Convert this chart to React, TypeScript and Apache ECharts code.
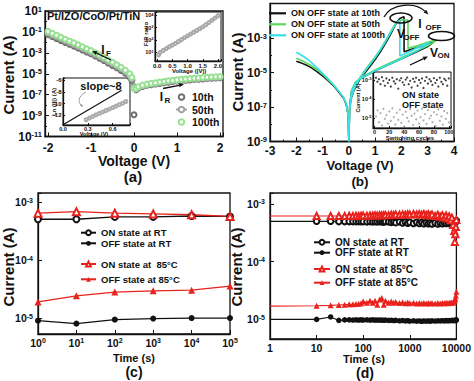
import React, { useEffect, useRef } from 'react';
import * as echarts from 'echarts';

// ---------- (a) main: I-V of Pt/IZO/CoO/Pt/TiN ----------
const aV = [-2.0,-1.9,-1.8,-1.7,-1.6,-1.5,-1.4,-1.3,-1.2,-1.1,-1.0,-0.9,-0.8,-0.7,-0.6,-0.5,-0.4,-0.3,-0.2,-0.1,
  -0.05,0,0.05,
  0.1,0.2,0.3,0.4,0.5,0.6,0.7,0.8,0.9,1.0,1.1,1.2,1.3,1.4,1.5,1.6,1.7,1.8,1.9,2.0];
const a10 = [5.6e-2,3.7e-2,2.4e-2,1.55e-2,1.0e-2,6.7e-3,4.5e-3,2.9e-3,1.9e-3,1.23e-3,8.1e-4,5.0e-4,3.0e-4,1.85e-4,1.06e-4,6.3e-5,3.7e-5,2.1e-5,1.13e-5,5.0e-6,
  2.3e-6,1.2e-9,3.0e-7,
  4.4e-7,6.2e-7,7.8e-7,9.1e-7,1.05e-6,1.2e-6,1.37e-6,1.58e-6,1.78e-6,2.0e-6,2.2e-6,2.4e-6,2.6e-6,2.8e-6,3.0e-6,3.2e-6,3.5e-6,3.7e-6,3.9e-6,4.1e-6];
const a50 = [7.9e-2,5.2e-2,3.4e-2,2.2e-2,1.45e-2,9.5e-3,6.3e-3,4.1e-3,2.7e-3,1.74e-3,1.15e-3,7.1e-4,4.3e-4,2.6e-4,1.5e-4,8.9e-5,5.2e-5,3.0e-5,1.6e-5,7.1e-6,
  3.2e-6,6.0e-7,3.5e-7,
  5.0e-7,7.1e-7,8.9e-7,1.05e-6,1.2e-6,1.38e-6,1.58e-6,1.82e-6,2.04e-6,2.3e-6,2.5e-6,2.75e-6,3.0e-6,3.2e-6,3.5e-6,3.7e-6,4.0e-6,4.3e-6,4.5e-6,4.7e-6];
const a100 = [1.12e-1,7.3e-2,4.8e-2,3.1e-2,2.0e-2,1.34e-2,8.9e-3,5.8e-3,3.8e-3,2.45e-3,1.62e-3,1.0e-3,6.1e-4,3.7e-4,2.1e-4,1.25e-4,7.3e-5,4.2e-5,2.2e-5,1.0e-5,
  4.5e-6,4.0e-7,4.0e-7,
  5.8e-7,8.2e-7,1.02e-6,1.2e-6,1.38e-6,1.6e-6,1.82e-6,2.1e-6,2.35e-6,2.6e-6,2.9e-6,3.2e-6,3.45e-6,3.7e-6,4.0e-6,4.3e-6,4.6e-6,4.9e-6,5.2e-6,5.4e-6];

// (a) inset: F/R ratio vs |V|
const a1V = [0.05,0.1,0.2,0.3,0.4,0.5,0.6,0.7,0.8,0.9,1.0,1.1,1.2,1.3,1.4,1.5,1.6,1.7,1.8,1.9,2.0];
const a1Ratio = [6.3,10,14,20,28,38,52,74,105,151,214,295,417,575,794,1122,1660,2512,3802,5754,8913];

// (a) inset: Ln(|I|) vs V
const a2FitV = [0, 0.71];
const a2FitLn = [-13.65, -7.7];
const a2PtsV = [0.28,0.32,0.36,0.40,0.44,0.48,0.52,0.56,0.60,0.64,0.68,0.72,0.76];
const a2PtsLn = [-12.8,-12.5,-12.2,-11.95,-11.7,-11.45,-11.2,-10.95,-10.7,-10.45,-10.2,-9.95,-9.65];

// ---------- (b) ON/OFF switching I-V ----------
const bV10 = [-2.0,-1.8,-1.6,-1.4,-1.2,-1.0,-0.8,-0.6,-0.4,-0.2,-0.1,-0.03,0,
  0.03,0.1,0.2,0.4,0.6,0.8,1.0,1.2,1.4,1.6,1.8,1.95,2.1,
  2.1,2.5,2.9,3.25,
  3.0,2.5,2.0,1.5,1.0,0.5,0.25,0.1,0.03,0];
const bI10 = [4.5e-5,3.5e-5,2.6e-5,1.8e-5,1.1e-5,6.3e-6,3.5e-6,1.8e-6,7.9e-7,3.2e-7,1.4e-7,4.0e-8,1e-9,
  1e-7,3.5e-7,1e-6,3.5e-6,8.9e-6,2.2e-5,5.6e-5,1.6e-4,5.0e-4,1.8e-3,7.1e-3,1.4e-2,1.7e-2,
  1.6e-4,2.5e-4,4.0e-4,6.3e-4,
  3.2e-4,1.4e-4,6.3e-5,2.8e-5,1.26e-5,5.0e-6,2.5e-6,7.9e-7,1e-7,1e-9];
const bV50 = [-2.0,-1.8,-1.6,-1.4,-1.2,-1.0,-0.8,-0.6,-0.4,-0.2,-0.1,-0.03,0,
  0.03,0.1,0.2,0.4,0.6,0.8,1.0,1.2,1.4,1.6,1.8,2.0,2.25,
  2.25,2.6,3.0,3.35,
  3.0,2.5,2.0,1.5,1.0,0.5,0.25,0.1,0.03,0];
const bI50 = [6.6e-5,5.0e-5,3.5e-5,2.3e-5,1.4e-5,7.9e-6,4.0e-6,2.0e-6,8.9e-7,3.5e-7,1.6e-7,4.0e-8,1e-9,
  1e-7,4.5e-7,1.26e-6,4.5e-6,1.26e-5,3.2e-5,7.9e-5,2.2e-4,7.1e-4,2.5e-3,7.9e-3,1.1e-2,1.1e-2,
  2.5e-4,3.5e-4,5.6e-4,7.9e-4,
  3.5e-4,1.6e-4,7.1e-5,3.2e-5,1.4e-5,5.6e-6,2.8e-6,8.9e-7,1e-7,1e-9];
const bV100 = [-2.0,-1.8,-1.6,-1.4,-1.2,-1.0,-0.8,-0.6,-0.4,-0.2,-0.1,-0.03,0,
  0.03,0.1,0.2,0.4,0.6,0.8,1.0,1.2,1.4,1.6,1.8,1.94,
  1.94,2.3,2.7,3.1,
  2.6,2.0,1.5,1.0,0.5,0.25,0.1,0.03,0];
const bI100 = [1.5e-4,1.0e-4,6.3e-5,3.5e-5,1.8e-5,8.9e-6,4.5e-6,2.1e-6,8.9e-7,3.5e-7,1.6e-7,3.2e-8,1e-9,
  7.9e-8,4.0e-7,1.1e-6,4.0e-6,1.1e-5,2.8e-5,7.1e-5,2.0e-4,6.3e-4,2.2e-3,7.1e-3,1.1e-2,
  8.9e-5,1.6e-4,3.2e-4,5.6e-4,
  1.8e-4,6.3e-5,2.8e-5,1.26e-5,5.0e-6,2.5e-6,7.9e-7,7.9e-8,1e-9];

// (b) inset: current vs switching cycles
const bCycles = [2,4,6,8,10,12,14,16,18,20,22,24,26,28,30,32,34,36,38,40,42,44,46,48,50,
  52,54,56,58,60,62,64,66,68,70,72,74,76,78,80,82,84,86,88,90,92,94,96,98,100];
const bOn = [1.3e-3,8e-4,1.1e-3,6e-4,1.4e-3,9e-4,5e-4,1.2e-3,7e-4,1.0e-3,
  4.5e-4,1.3e-3,8.5e-4,6.5e-4,1.1e-3,3.5e-4,9.5e-4,1.25e-3,7.5e-4,5.5e-4,
  1.05e-3,1.35e-3,6e-4,9e-4,4e-4,1.15e-3,8e-4,1.3e-3,5e-4,1e-3,
  7e-4,1.2e-3,3.8e-4,9e-4,1.4e-3,6.5e-4,1.1e-3,8.5e-4,5.5e-4,1.25e-3,
  7e-4,1e-3,4.5e-4,1.3e-3,8e-4,6e-4,1.15e-3,9.5e-4,5e-4,1.2e-3];
const bOff = [1.2e-5,2.5e-5,6e-6,1.8e-5,4e-6,3e-5,9e-6,1.4e-5,5e-6,2.2e-5,
  7e-6,3.2e-5,1.1e-5,4.5e-6,1.9e-5,8e-6,2.7e-5,5.5e-6,1.5e-5,3.5e-6,
  2.1e-5,1e-5,6.5e-6,2.9e-5,1.3e-5,4.2e-6,1.7e-5,8.5e-6,2.4e-5,5e-6,
  1.1e-5,3.1e-5,7.5e-6,1.6e-5,4.8e-6,2.6e-5,9.5e-6,1.3e-5,6e-6,2e-5,
  3.8e-6,1.5e-5,2.8e-5,7e-6,1.2e-5,4.4e-6,2.3e-5,9e-6,1.8e-5,5.8e-6];

// ---------- (c) retention, sparse ----------
const cTime = [1,10,100,1000,10000,100000];
const cOnRT = [5.1e-4,5.1e-4,5.6e-4,5.6e-4,5.8e-4,5.7e-4];
const cOffRT = [9.1e-6,8.1e-6,9.5e-6,9.9e-6,1.01e-5,1.01e-5];
const cOn85 = [6.5e-4,6.9e-4,6.5e-4,6.3e-4,6.1e-4,5.7e-4];
const cOff85 = [1.92e-5,2.44e-5,2.83e-5,2.98e-5,3.06e-5,3.59e-5];

// ---------- (d) retention, dense ----------
const dTime = [1,10,20,30,40,50,60,70,80,90,
  100,120,140,160,180,
  200,225,250,275,
  300,350,400,450,
  500,600,700,800,900,
  1000,1200,1400,1600,1800,
  2000,2250,2500,2750,
  3000,3500,4000,4500,
  5000,5500,6000,6500,
  7000,7500,8000,8500,
  9000,9250,9500,9750,10000];
const dOnRT = [5.0e-4,5.0e-4,5.0e-4,4.95e-4,4.95e-4,4.95e-4,4.95e-4,4.95e-4,4.95e-4,4.95e-4,
  4.95e-4,4.9e-4,4.95e-4,4.9e-4,4.95e-4,
  4.9e-4,4.95e-4,4.9e-4,4.85e-4,
  4.95e-4,4.9e-4,4.8e-4,4.9e-4,
  4.75e-4,4.9e-4,4.7e-4,4.85e-4,4.65e-4,
  4.8e-4,4.6e-4,4.8e-4,4.6e-4,4.75e-4,
  4.55e-4,4.75e-4,4.55e-4,4.7e-4,
  4.5e-4,4.7e-4,4.5e-4,4.7e-4,
  4.55e-4,4.75e-4,4.6e-4,4.8e-4,
  4.6e-4,4.8e-4,4.65e-4,4.85e-4,
  4.7e-4,4.9e-4,4.8e-4,5.0e-4,5.1e-4];
const dOffRT = [1.0e-5,1.0e-5,1.1e-5,9.6e-6,9.8e-6,9.8e-6,9.75e-6,9.8e-6,9.75e-6,9.8e-6,
  9.75e-6,9.8e-6,9.7e-6,9.8e-6,9.7e-6,
  9.75e-6,9.7e-6,9.75e-6,9.65e-6,
  9.7e-6,9.6e-6,9.65e-6,9.55e-6,
  9.6e-6,9.45e-6,9.55e-6,9.4e-6,9.5e-6,
  9.3e-6,9.45e-6,9.3e-6,9.4e-6,9.25e-6,
  9.4e-6,9.3e-6,9.4e-6,9.3e-6,
  9.45e-6,9.35e-6,9.45e-6,9.4e-6,
  9.5e-6,9.4e-6,9.55e-6,9.45e-6,
  9.55e-6,9.5e-6,9.6e-6,9.5e-6,
  9.6e-6,9.55e-6,9.65e-6,9.6e-6,9.8e-6];
const dOn85 = [6.2e-4,6.2e-4,6.2e-4,6.2e-4,6.2e-4,6.25e-4,6.2e-4,6.25e-4,6.2e-4,6.25e-4,
  6.3e-4,6.25e-4,6.3e-4,6.3e-4,6.35e-4,
  6.3e-4,6.4e-4,6.35e-4,6.4e-4,
  6.45e-4,6.4e-4,6.5e-4,6.45e-4,
  6.55e-4,6.5e-4,6.6e-4,6.5e-4,6.65e-4,
  6.55e-4,6.7e-4,6.55e-4,6.7e-4,6.5e-4,
  6.7e-4,6.45e-4,6.65e-4,6.3e-4,
  6.6e-4,6.2e-4,6.5e-4,6.0e-4,
  6.4e-4,5.8e-4,6.3e-4,5.6e-4,
  6.1e-4,5.2e-4,5.8e-4,4.3e-4,
  3.4e-4,2.2e-4,3.0e-4,4.0e-4,5.3e-4];
const dOff85 = [1.7e-5,1.72e-5,1.75e-5,1.78e-5,1.8e-5,1.82e-5,1.83e-5,1.85e-5,1.86e-5,1.9e-5,
  2.05e-5,1.95e-5,2.1e-5,1.95e-5,2.1e-5,
  1.8e-5,2.2e-5,2.35e-5,1.8e-5,
  2.1e-5,1.95e-5,2.05e-5,1.95e-5,
  2.0e-5,1.92e-5,1.98e-5,1.9e-5,1.96e-5,
  1.9e-5,1.95e-5,1.88e-5,1.93e-5,1.88e-5,
  1.93e-5,1.88e-5,1.92e-5,1.88e-5,
  1.92e-5,1.88e-5,1.92e-5,1.88e-5,
  1.93e-5,1.9e-5,1.95e-5,1.9e-5,
  1.95e-5,1.92e-5,1.98e-5,1.95e-5,
  2.05e-5,2.15e-5,2.3e-5,2.6e-5,3.0e-5];

// ---------- styling ----------
const FF = '"Liberation Sans", Arial, Helvetica, sans-serif';
const INK = '#111';
const RED = '#e8221c';
const GREEN = '#5cd65c';
const CYAN = '#33e0e8';
const lg = (v: number) => Math.log10(v);
const pairs = (xs: number[], ys: number[], fx = (v: number) => v, fy = (v: number) => v) =>
  xs.map((x, i) => [fx(x), fy(ys[i])]);

const isInt = (v: number) => Math.abs(v - Math.round(v)) < 1e-6;
const fmtPow = (v: number) => (isInt(v) ? `{b|10}{s|${Math.round(v)}}` : '');
const fmtPowNoTop = (v: number) => (isInt(v) && Math.round(v) !== -1 ? `{b|10}{s|${Math.round(v)}}` : '');
const fmtInt = (v: number) => (isInt(v) ? String(Math.round(v)) : '');
const fmtStep = (step: number, dec: number) => (v: number) => (isInt(v / step) ? v.toFixed(dec) : '');
const fmtTime = (v: number) => (isInt(v) ? String(Math.round(Math.pow(10, Math.round(v)))) : '');

function ax(gridIndex: number, min: number, max: number, o: any) {
  const size = o.size ?? 12;
  const sup = o.sup ?? 8;
  const tick = o.tick ?? 4;
  return {
    type: 'value', gridIndex, min, max,
    interval: o.interval, splitNumber: o.splitNumber,
    axisLine: { show: true, onZero: false, lineStyle: { color: INK, width: 1.3 } },
    axisTick: { show: true, inside: true, length: tick, lineStyle: { color: INK, width: 1 } },
    minorTick: o.minor ? { show: true, splitNumber: o.minor, length: tick / 2, lineStyle: { color: INK, width: 1 } } : { show: false },
    splitLine: { show: false },
    minorSplitLine: { show: false },
    axisLabel: {
      show: true, margin: o.margin ?? 4, formatter: o.fmt, color: INK,
      fontSize: size, fontWeight: 'bold', fontFamily: FF,
      rich: {
        b: { fontSize: size, fontWeight: 'bold', fontFamily: FF, color: INK },
        s: { fontSize: sup, fontWeight: 'bold', fontFamily: FF, color: INK, verticalAlign: 'top' },
      },
    },
  };
}

function txt(text: string, x: number, y: number, size: number, o: any = {}) {
  const align = o.align || 'center';
  return {
    type: 'text', x, y, rotation: o.rot || 0, silent: true, z: 50,
    style: {
      text, fontSize: size, fontWeight: o.weight || 'bold', fontFamily: FF, fill: o.fill || INK,
      align, verticalAlign: 'middle', textAlign: align, textVerticalAlign: 'middle',
    },
  };
}

function arrow(x1: number, y1: number, x2: number, y2: number, color = INK, w = 1.3, len = 5, half = 2) {
  const dx = x2 - x1, dy = y2 - y1;
  const L = Math.hypot(dx, dy);
  const ux = dx / L, uy = dy / L;
  const bx = x2 - ux * len, by = y2 - uy * len;
  return [
    { type: 'line', silent: true, z: 50, shape: { x1, y1, x2: bx, y2: by }, style: { stroke: color, lineWidth: w } },
    { type: 'polygon', silent: true, z: 50, shape: { points: [[x2, y2], [bx - uy * half, by + ux * half], [bx + uy * half, by - ux * half]] }, style: { fill: color } },
  ];
}

function curvedArrow(x1: number, y1: number, c1x: number, c1y: number, c2x: number, c2y: number, x2: number, y2: number, color = INK, w = 1.3, len = 5, half = 2) {
  const dx = x2 - c2x, dy = y2 - c2y;
  const L = Math.hypot(dx, dy);
  const ux = dx / L, uy = dy / L;
  const bx = x2 - ux * len, by = y2 - uy * len;
  return [
    { type: 'bezierCurve', silent: true, z: 50, shape: { x1, y1, cpx1: c1x, cpy1: c1y, cpx2: c2x, cpy2: c2y, x2: bx, y2: by }, style: { stroke: color, lineWidth: w, fill: 'transparent' } },
    { type: 'polygon', silent: true, z: 50, shape: { points: [[x2, y2], [bx - uy * half, by + ux * half], [bx + uy * half, by - ux * half]] }, style: { fill: color } },
  ];
}

const gridBase = { show: true, borderColor: INK, borderWidth: 1.3, containLabel: false };
const legBase = { padding: 0, orient: 'vertical', selectedMode: false };
const lt = (fontSize: number, lineHeight: number) => ({ fontSize, lineHeight, fontWeight: 'bold', fontFamily: FF, color: INK });

function dSeries(name: string, vals: number[], symbol: string, color: string, size: number) {
  return {
    name, type: 'line', xAxisIndex: 6, yAxisIndex: 6, symbol, symbolSize: size,
    data: dTime.map((t, i) => (i === 0 ? { value: [lg(t), lg(vals[i])], symbol: 'none' } : [lg(t), lg(vals[i])])),
    lineStyle: { color, width: 1.1 }, itemStyle: { color, borderWidth: 1 },
  };
}
function cSeries(name: string, vals: number[], symbol: string, color: string, size: number) {
  return {
    name, type: 'line', xAxisIndex: 5, yAxisIndex: 5, symbol, symbolSize: size,
    data: pairs(cTime, vals, lg, lg),
    lineStyle: { color, width: 1.3 }, itemStyle: { color, borderWidth: 1.1 },
  };
}

const option: any = {
  animation: false,
  textStyle: { fontFamily: FF },
  grid: [
    { ...gridBase, left: 45, top: 11, width: 178, height: 125.5 },
    { ...gridBase, left: 155, top: 12, width: 66, height: 49, borderWidth: 1, backgroundColor: '#fff' },
    { ...gridBase, left: 63, top: 78, width: 67, height: 47, borderWidth: 1, backgroundColor: '#fff' },
    { ...gridBase, left: 270, top: 3.5, width: 184, height: 138 },
    { ...gridBase, left: 373, top: 72, width: 78, height: 56, borderWidth: 1, backgroundColor: '#fff' },
    { ...gridBase, left: 38, top: 193, width: 192, height: 141 },
    { ...gridBase, left: 270, top: 193, width: 189, height: 146 },
  ],
  xAxis: [
    ax(0, -2.07, 2.07, { splitNumber: 4, fmt: fmtInt, size: 12, margin: 5 }),
    ax(1, -0.07, 2.1, { splitNumber: 4, fmt: fmtStep(0.5, 1), size: 6, margin: 2, tick: 2 }),
    ax(2, 0, 0.81, { interval: 0.3, fmt: fmtStep(0.3, 1), size: 5.5, margin: 1, tick: 2 }),
    ax(3, -3, 4, { interval: 1, fmt: fmtInt, size: 12, margin: 3, minor: 2 }),
    ax(4, -2, 103, { splitNumber: 5, fmt: fmtStep(20, 0), size: 5.5, margin: 1, tick: 2 }),
    ax(5, 0, 5, { interval: 1, fmt: fmtPow, size: 10.5, sup: 7, margin: 3 }),
    ax(6, 0, 4, { interval: 1, fmt: fmtTime, size: 10.5, margin: 3 }),
  ],
  yAxis: [
    ax(0, -11, 1, { interval: 2, fmt: fmtPow, size: 12, sup: 7.5, margin: 3, minor: 2 }),
    ax(1, 0.3, 4.25, { splitNumber: 4, fmt: fmtPow, size: 5.5, sup: 4, margin: 1.5, tick: 2 }),
    ax(2, -13.7, -5.6, { splitNumber: 4, fmt: fmtInt, size: 6, margin: 1.5, tick: 2 }),
    ax(3, -9, -1, { interval: 2, fmt: fmtPowNoTop, size: 12, sup: 7.5, margin: 3, minor: 2 }),
    ax(4, -5.53, -2.58, { splitNumber: 3, fmt: fmtPow, size: 5.5, sup: 4, margin: 1.5, tick: 2 }),
    ax(5, -5.27, -2.84, { splitNumber: 2, fmt: fmtPow, size: 10.5, sup: 7, margin: 5 }),
    ax(6, -5.34, -2.81, { splitNumber: 2, fmt: fmtPow, size: 10.5, sup: 7, margin: 5 }),
  ],
  legend: [
    { ...legBase, left: 175, top: 91.5, itemWidth: 11, itemHeight: 7, itemGap: 1.5, textStyle: lt(10.5, 11), data: ['10th', '50th', '100th'] },
    { ...legBase, left: 269, top: 8.3, itemWidth: 17, itemHeight: 2.2, itemGap: 1, textStyle: lt(9, 10),
      data: ['ON OFF state at 10th', 'ON OFF state at 50th', 'ON OFF state at 100th'].map((n) => ({ name: n, icon: 'rect' })) },
    { ...legBase, left: 80, top: 227.7, itemWidth: 15, itemHeight: 6, itemGap: 0.6, textStyle: lt(9.5, 10), data: ['ON state at RT', 'OFF state at RT'] },
    { ...legBase, left: 80, top: 259, itemWidth: 15, itemHeight: 6, itemGap: 5.3, textStyle: lt(9.5, 10), data: ['ON state at  85°C', 'OFF state at 85°C'] },
    { ...legBase, left: 313, top: 237.3, itemWidth: 16, itemHeight: 6, itemGap: 0.4, textStyle: lt(10, 10), data: ['ON state at RT', 'OFF state at RT'] },
    { ...legBase, left: 313, top: 264, itemWidth: 16, itemHeight: 6, textStyle: lt(10, 10), data: ['ON state at 85°C'] },
    { ...legBase, left: 313, top: 277.7, itemWidth: 16, itemHeight: 6, textStyle: lt(10, 10), data: ['OFF state at 85°C'] },
  ],
  series: [
    // (a)
    { name: '10th', type: 'line', xAxisIndex: 0, yAxisIndex: 0, data: pairs(aV, a10, (v) => v, lg), symbol: 'emptyCircle', symbolSize: 5,
      lineStyle: { width: 0, opacity: 0, color: '#6e6e6e' }, itemStyle: { color: '#6e6e6e', borderWidth: 1 } },
    { name: '50th', type: 'line', xAxisIndex: 0, yAxisIndex: 0, data: pairs(aV, a50, (v) => v, lg), symbol: 'emptyCircle', symbolSize: 5,
      lineStyle: { width: 1, color: '#a0a0a0' }, itemStyle: { color: '#a0a0a0', borderWidth: 1 } },
    { name: '100th', type: 'line', xAxisIndex: 0, yAxisIndex: 0, data: pairs(aV, a100, (v) => v, lg), symbol: 'emptyCircle', symbolSize: 5,
      lineStyle: { width: 0, opacity: 0, color: '#98e094' }, itemStyle: { color: '#98e094', borderWidth: 1 } },
    { name: 'F/R ratio', type: 'line', xAxisIndex: 1, yAxisIndex: 1, data: pairs(a1V, a1Ratio, (v) => v, lg), symbol: 'emptyCircle', symbolSize: 3,
      lineStyle: { width: 0, opacity: 0 }, itemStyle: { color: '#a8a8a8', borderWidth: 0.8 } },
    { name: 'fit', type: 'line', xAxisIndex: 2, yAxisIndex: 2, data: pairs(a2FitV, a2FitLn), symbol: 'none', lineStyle: { color: INK, width: 1.2 } },
    { name: 'Ln I', type: 'line', xAxisIndex: 2, yAxisIndex: 2, data: pairs(a2PtsV, a2PtsLn), symbol: 'emptyCircle', symbolSize: 3,
      lineStyle: { width: 0, opacity: 0 }, itemStyle: { color: '#ababab', borderWidth: 0.8 } },
    // (b)
    { name: 'ON OFF state at 10th', type: 'line', xAxisIndex: 3, yAxisIndex: 3, data: pairs(bV10, bI10, (v) => v, lg), symbol: 'none', lineStyle: { color: INK, width: 1.6 }, itemStyle: { color: INK } },
    { name: 'ON OFF state at 50th', type: 'line', xAxisIndex: 3, yAxisIndex: 3, data: pairs(bV50, bI50, (v) => v, lg), symbol: 'none', lineStyle: { color: GREEN, width: 1.6 }, itemStyle: { color: GREEN } },
    { name: 'ON OFF state at 100th', type: 'line', xAxisIndex: 3, yAxisIndex: 3, data: pairs(bV100, bI100, (v) => v, lg), symbol: 'none', lineStyle: { color: CYAN, width: 1.6 }, itemStyle: { color: CYAN } },
    { name: 'ON cycles', type: 'scatter', xAxisIndex: 4, yAxisIndex: 4, data: pairs(bCycles, bOn, (v) => v, lg), symbol: 'circle', symbolSize: 2.2, itemStyle: { color: INK } },
    { name: 'OFF cycles', type: 'scatter', xAxisIndex: 4, yAxisIndex: 4, data: pairs(bCycles, bOff, (v) => v, lg), symbol: 'circle', symbolSize: 2, itemStyle: { color: '#9a9a9a' } },
    // (c)
    cSeries('ON state at RT', cOnRT, 'emptyCircle', INK, 6),
    cSeries('OFF state at RT', cOffRT, 'circle', INK, 6),
    cSeries('ON state at  85°C', cOn85, 'emptyTriangle', RED, 7),
    cSeries('OFF state at 85°C', cOff85, 'triangle', RED, 7),
    // (d)
    dSeries('ON state at RT', dOnRT, 'emptyCircle', INK, 5.5),
    dSeries('OFF state at RT', dOffRT, 'circle', INK, 5.5),
    dSeries('ON state at 85°C', dOn85, 'emptyTriangle', RED, 6),
    dSeries('OFF state at 85°C', dOff85, 'triangle', RED, 6),
  ],
  graphic: {
    elements: [
      // (a)
      txt('Current (A)', 8.5, 75, 15, { rot: Math.PI / 2 }),
      txt('Voltage (V)', 134, 161, 14),
      txt('(a)', 133, 176, 15),
      txt('Pt/IZO/CoO/Pt/TiN', 47, 16, 11, { align: 'left' }),
      txt('F/R ratio', 145.5, 34, 6, { rot: Math.PI / 2 }),
      txt('Voltage (|V|)', 189, 70.5, 6),
      txt('Ln (|I|) (A)', 54, 102, 6, { rot: Math.PI / 2 }),
      txt('Voltage (V)', 94, 133.5, 5.5),
      txt('slope~8', 101, 86, 11),
      ...curvedArrow(86, 92, 78, 96, 78, 102, 83, 107, '#888', 0.8, 3, 1.3),
      txt('I', 103, 50, 12),
      txt('F', 108.5, 53, 8),
      ...arrow(111, 60, 92, 51),
      txt('I', 161.5, 97, 12),
      txt('R', 167.5, 100, 8),
      ...arrow(163, 88.5, 184, 84.3),
      // (b)
      txt('Current (A)', 237, 72, 15, { rot: Math.PI / 2 }),
      txt('Voltage (V)', 360, 165.5, 13),
      txt('(b)', 360, 181, 13.5),
      { type: 'ellipse', silent: true, z: 50, shape: { cx: 401, cy: 18, rx: 11, ry: 5 }, style: { fill: 'transparent', stroke: INK, lineWidth: 1.5 } },
      { type: 'ellipse', silent: true, z: 50, shape: { cx: 441.5, cy: 36, rx: 13, ry: 4.5 }, style: { fill: 'transparent', stroke: INK, lineWidth: 1.5 } },
      ...curvedArrow(384, 17, 392, 3, 415, 2, 428.5, 14.5),
      txt('I', 420, 24, 12),
      txt('OFF', 433.5, 27.5, 8),
      txt('V', 401, 34, 12),
      txt('OFF', 411.5, 37, 8),
      txt('V', 434, 52.5, 12),
      txt('ON', 443.5, 55.5, 8),
      ...arrow(410, 65, 428, 56.5),
      txt('ON state', 402, 95, 9, { align: 'left' }),
      txt('OFF state', 402, 105, 9, { align: 'left' }),
      txt('Current (A)', 357.5, 98, 5.5, { rot: Math.PI / 2 }),
      txt('Switching cycles', 410, 138, 6),
      // (c)
      txt('Current (A)', 8, 267, 15, { rot: Math.PI / 2 }),
      txt('Time (s)', 134, 357.5, 11),
      txt('(c)', 134, 372, 14),
      // (d)
      txt('Current (A)', 236, 267, 15, { rot: Math.PI / 2 }),
      txt('Time (s)', 364, 359, 11),
      txt('(d)', 365, 373, 14),
    ],
  },
};

export default function App() {
  const ref = useRef<HTMLDivElement>(null);
  useEffect(() => {
    if (!ref.current) return;
    const chart = echarts.init(ref.current, null, { renderer: 'svg' });
    chart.setOption(option);
    return () => chart.dispose();
  }, []);
  return <div ref={ref} style={{ position: 'absolute', left: 0, top: 0, width: 474, height: 381, background: '#fff' }} />;
}
